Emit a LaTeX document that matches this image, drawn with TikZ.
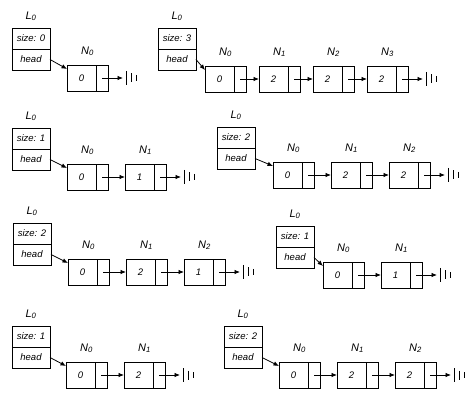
\documentclass[tikz,border=0pt]{standalone}
\usepackage{fontspec}
\setmainfont{Liberation Sans}
\usetikzlibrary{positioning,arrows.meta}

\tikzset{
  lst/.style={draw, line width=0.9pt, minimum width=38pt, minimum height=21pt,
    inner sep=0pt, outer sep=0pt, font=\fontsize{9.5}{11}\selectfont\itshape},
  val/.style={draw, line width=0.9pt, minimum width=29pt, minimum height=26pt,
    inner sep=0pt, outer sep=0pt, font=\fontsize{9.5}{11}\selectfont\itshape},
  nxt/.style={draw, line width=0.9pt, minimum width=12pt, minimum height=26pt,
    inner sep=0pt, outer sep=0pt},
  lbl/.style={inner sep=0pt, font=\fontsize{11}{13}\selectfont\itshape},
  link/.style={-{Latex[length=5.5pt,width=4.5pt]}, line width=0.8pt},
  nil/.pic={\draw[line width=1pt] (3,-7) -- (3,7) (8,-4.5) -- (8,4.5) (13,-3) -- (13,3);}
}

\begin{document}
\begin{tikzpicture}[x=1pt, y=-1pt]
\useasboundingbox (0,0) rectangle (474,403);

% one panel per list: record position, first node, pitch, size, values, count
\foreach \lx/\ly/\nx/\ny/\d/\sz/\vals/\n [count=\k] in {
    12/28/67/65/58/0/{0}/1,
    158/28/205/66/54/3/{0,2,2,2}/4,
    12/128/67/164/58/1/{0,1}/2,
    217/127/273/162/58/2/{0,2,2}/3,
    13/223/68/259/58/2/{0,2,1}/3,
    276/226/323/262/58/1/{0,1}/2,
    12/326/66/362/58/1/{0,2}/2,
    224/326/279/362/58/2/{0,2,2}/3}
{
  % List record
  \node[lst, anchor=north west] (s\k) at (\lx,\ly) {size: \sz};
  \node[lst, below=0pt of s\k] (h\k) {head};
  \node[lbl, above=7pt of s\k] (l\k) {L\textsubscript{0}};

  % Nodes and links
  \foreach \v [count=\i from 0] in \vals {
    \node[val, anchor=north west] (v\k-\i) at (\nx+\d*\i,\ny) {\v};
    \node[nxt, right=0pt of v\k-\i] (p\k-\i) {};
    \node[lbl, above=9pt of v\k-\i.north east, xshift=-8.5pt] (n\k-\i) {N\textsubscript{\i}};
    \ifnum\i>0
      \pgfmathtruncatemacro\j{\i-1}
      \draw[link] (p\k-\j.center) -- (v\k-\i.west);
    \fi
  }

  % Head pointer
  \draw[link] (h\k.east) -- ([yshift=-4pt]v\k-0.north west);

  % Null end
  \pgfmathtruncatemacro\m{\n-1}
  \coordinate[right=15pt of p\k-\m] (z\k);
  \draw[link] (p\k-\m.center) -- (z\k);
  \pic at (z\k) {nil};
}

\end{tikzpicture}
\end{document}
